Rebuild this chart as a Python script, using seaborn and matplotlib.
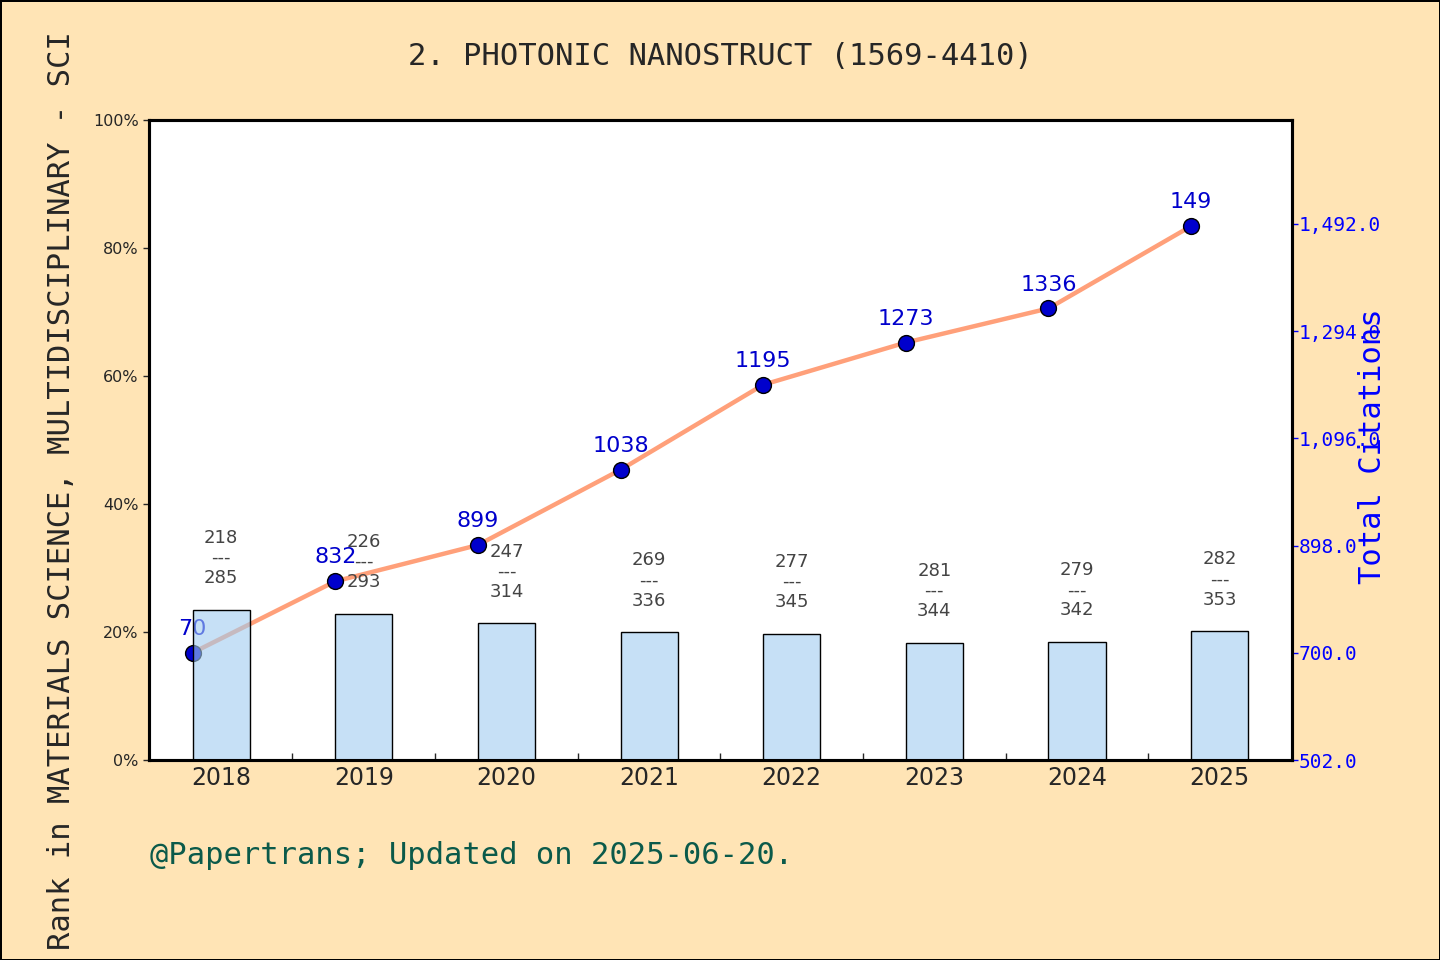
import numpy as np
import pandas as pd
import matplotlib
matplotlib.use('Agg')
import matplotlib.pyplot as plt
import seaborn as sns
from matplotlib.ticker import FuncFormatter, FixedLocator

# data
years = ['2018', '2019', '2020', '2021', '2022', '2023', '2024', '2025']
rank = [218, 226, 247, 269, 277, 281, 279, 282]
total = [285, 293, 314, 336, 345, 344, 342, 353]
citations = [700, 832, 899, 1038, 1195, 1273, 1336, 1488]
cite_labels = ['70', '832', '899', '1038', '1195', '1273', '1336', '149']
right_ticks = [502.0, 700.0, 898.0, 1096.0, 1294.0, 1492.0]

df = pd.DataFrame({'year': years, 'rank': rank, 'total': total, 'cit': citations})
df['pct'] = 1 - df['rank'] / df['total']

sns.set_style('white')
plt.rcParams['font.family'] = ['DejaVu Sans']
mono = 'DejaVu Sans Mono'

fig = plt.figure(figsize=(14.4, 9.6), dpi=100)
fig.patch.set_facecolor('#FFE4B5')
fig.patch.set_edgecolor('black')
fig.patch.set_linewidth(2)

ax = fig.add_axes([0.1035, 0.2083, 0.7935, 0.6667])
ax2 = ax.twinx()

# bars on the left axis, drawn above the line
sns.barplot(data=df, x='year', y='pct', ax=ax, width=0.4, saturation=1,
            color='#A0CCF0', edgecolor='black', linewidth=1)
for p in ax.patches:
    p.set_alpha(None)
    p.set_facecolor((0.63, 0.80, 0.94, 0.6))
    p.set_edgecolor((0, 0, 0, 1))

for i, row in df.iterrows():
    ax.text(i, row['pct'] + 0.081, f"{row['rank']}\n---\n{row['total']}",
            ha='center', va='center', fontsize=13, color='#444444', linespacing=1.15)

ax.set_xlim(-0.505, 7.505)
ax.set_ylim(0, 1)
ax.set_yticks(np.arange(0, 1.01, 0.2))
ax.yaxis.set_major_formatter(FuncFormatter(lambda v, p: f"{v*100:.0f}%"))
ax.tick_params(axis='y', labelsize=11.5, direction='out', length=4, width=1, left=True)
ax.tick_params(axis='x', labelsize=17, length=0, pad=4)
ax.xaxis.set_minor_locator(FixedLocator(np.arange(0.5, 7, 1)))
ax.tick_params(axis='x', which='minor', direction='in', length=5, width=1, bottom=True)
ax.set_xlabel('')
ax.set_ylabel('')

# line on the right axis
x_line = np.arange(len(years)) - 0.2
ax2.plot(x_line, df['cit'], color='#FFA07A', linewidth=3.2, zorder=2)
ax2.scatter(x_line, df['cit'], s=130, color='#0000CC', edgecolor='black', linewidth=1, zorder=3)
for xi, yi, lab in zip(x_line, df['cit'], cite_labels):
    ax2.annotate(lab, (xi, yi), xytext=(0, 10), textcoords='offset points',
                 ha='center', va='bottom', fontsize=16, color='#0000CC')
ax2.set_ylim(502, 1684)
ax2.yaxis.set_major_locator(FixedLocator(right_ticks))
ax2.yaxis.set_major_formatter(FuncFormatter(lambda v, p: f"{v:,.1f}"))
ax2.tick_params(axis='y', labelsize=14, labelcolor='blue', colors='blue',
                direction='out', length=4, width=1, right=True, pad=1)
for t in ax2.get_yticklabels():
    t.set_fontfamily(mono)

ax.set_zorder(ax2.get_zorder() + 1)
ax.patch.set_visible(False)
ax2.patch.set_visible(True)
ax2.patch.set_facecolor('white')

for a in (ax, ax2):
    for s in a.spines.values():
        s.set_linewidth(2.2)
        s.set_color('black')
        s.set_visible(True)

fig.text(0.5, 0.941, '2. PHOTONIC NANOSTRUCT (1569-4410)', ha='center', va='center',
         fontsize=22, family=mono)
fig.text(0.104, 0.109, '@Papertrans; Updated on 2025-06-20.', ha='left', va='center',
         fontsize=22, family=mono, color='#0B5A4A')
fig.text(0.043, 0.010, 'Rank in MATERIALS SCIENCE, MULTIDISCIPLINARY - SCI', rotation=90,
         ha='center', va='bottom', fontsize=22, family=mono)
fig.text(0.953, 0.535, 'Total Citations', rotation=90, ha='center', va='center',
         fontsize=22, family=mono, color='blue')

fig.savefig('out.png', dpi=100, facecolor=fig.get_facecolor(), edgecolor=fig.get_edgecolor())
